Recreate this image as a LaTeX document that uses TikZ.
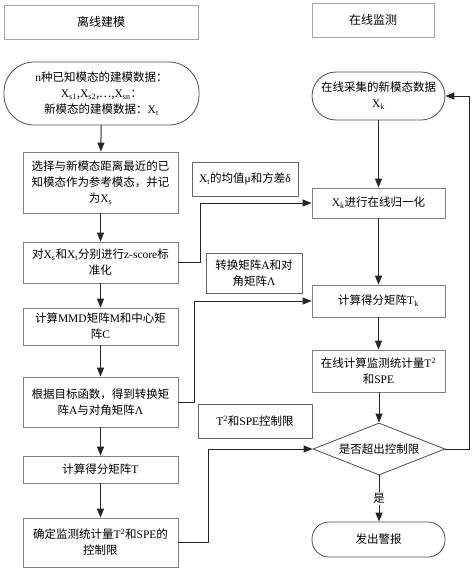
\documentclass[tikz,border=0pt]{standalone}
\usepackage{fontspec}
\setmainfont{Noto Sans CJK SC}
\newfontfamily\lat{Liberation Serif}
\usetikzlibrary{shapes.geometric,arrows.meta}
\newcommand\Xv[1]{{\lat X\textsubscript{#1}}}
\newcommand\Tsq{{\lat T\textsuperscript{2}}}
\newcommand\La[1]{{\lat #1}}
\tikzset{
  box/.style={draw=black!50, line width=0.8pt, align=center, inner sep=0pt, font=\fontsize{11.5}{16}\selectfont},
  hdr/.style={draw=black!35, line width=0.8pt, align=center, inner sep=0pt, font=\fontsize{12}{16}\selectfont},
  term/.style={box, draw=black!70, rounded corners=#1},
  lbl/.style={draw=black!60, line width=0.8pt, align=center, inner sep=0pt, font=\fontsize{11.5}{16}\selectfont},
  arr/.style={draw=black!85, line width=1pt, -{Triangle[length=9pt,width=7pt]}},
  ln/.style={draw=black!85, line width=1pt}
}
\begin{document}
\begin{tikzpicture}[x=1pt,y=-1pt]
\useasboundingbox (0,0) rectangle (474,571);
% left column
\node[hdr, minimum width=194, minimum height=34] (h1) at (101,22) {离线建模};
\node[term=30pt, minimum width=195, minimum height=63] (t1) at (101.5,93.5)
  {\La{n}种已知模态的建模数据：\\\Xv{s1},\Xv{s2},⋯,\Xv{sn}：\\新模态的建模数据：\Xv{t}};
\node[box, minimum width=155, minimum height=61] (b1) at (100.5,182.5)
  {选择与新模态距离最近的已\\知模态作为参考模态，并记\\为\Xv{s}};
\node[box, minimum width=155, minimum height=41] (b2) at (100.5,262.5)
  {对\Xv{s}和\Xv{t}分别进行\La{z-score}标\\准化};
\node[box, minimum width=155, minimum height=37] (b3) at (100.5,326.5)
  {计算\La{MMD}矩阵\La{M}和中心矩\\阵\La{C}};
\node[box, minimum width=155, minimum height=50] (b4) at (100.5,402)
  {根据目标函数，得到转换矩\\阵\La{A}与对角矩阵\La{Λ}};
\node[box, minimum width=155, minimum height=27] (b5) at (100.5,469.5)
  {计算得分矩阵\La{T}};
\node[box, minimum width=155, minimum height=49] (b6) at (100.5,542.5)
  {确定监测统计量\Tsq 和\La{SPE}的\\控制限};
% right column
\node[hdr, minimum width=122, minimum height=34] (h2) at (373,20) {在线监测};
\node[term=24pt, minimum width=133, minimum height=48] (t2) at (378.5,96)
  {在线采集的新模态数据\\\Xv{k}};
\node[box, minimum width=133, minimum height=30] (r1) at (378.5,203)
  {\Xv{k}进行在线归一化};
\node[box, minimum width=133, minimum height=32] (r2) at (378.5,301)
  {计算得分矩阵\La{T\textsubscript{k}}};
\node[box, minimum width=133, minimum height=42] (r3) at (378.5,371)
  {在线计算监测统计量\Tsq\\和\La{SPE}};
\node[draw=black!70, line width=0.8pt, shape=diamond, inner sep=0pt, minimum width=132, minimum height=52] (dia) at (379,449) {};
\node[font=\fontsize{11.5}{16}\selectfont] (diat) at (dia.center) {是否超出控制限};
\node[term=17pt, minimum width=133, minimum height=35] (r4) at (378.5,539.5) {发出警报};
% side labels
\node[lbl, minimum width=106, minimum height=34] (l1) at (245,179) {\Xv{t}的均值\La{μ}和方差\La{δ}};
\node[lbl, minimum width=96, minimum height=40] (l2) at (254,273) {转换矩阵\La{A}和对\\角矩阵\La{Λ}};
\node[lbl, minimum width=114, minimum height=34] (l3) at (255,421) {\Tsq 和\La{SPE}控制限};
% coordinates
\coordinate (c1) at (200,203);
\coordinate (c2) at (194,301);
\coordinate (c3) at (208,449);
\coordinate (c4) at (469,96);
% left arrows
\draw[arr] (t1) -- (b1);
\draw[arr] (b1) -- (b2);
\draw[arr] (b2) -- (b3);
\draw[arr] (b3) -- (b4);
\draw[arr] (b4) -- (b5);
\draw[arr] (b5) -- (b6);
% right arrows
\draw[arr] (t2.south -| r1.north) -- (r1.north);
\draw[arr] (r1) -- (r2);
\draw[arr] (r2) -- (r3);
\draw[arr] (r3.south -| dia.north) -- (dia.north);
\draw[arr] (dia.south) -- node[fill=white, inner sep=1pt, font=\fontsize{11.5}{14}\selectfont] (yes) {是} (r4.north -| dia.south);
% cross connectors
\draw[arr] (b2.east) -| (c1) -- (r1.west);
\draw[arr] (b4.east) -| (c2) -- (r2.west);
\draw[arr] (b6.east) -| (c3) -- (dia.west);
\draw[arr] (dia.east) -| (c4) -- (t2.east);
\end{tikzpicture}
\end{document}
